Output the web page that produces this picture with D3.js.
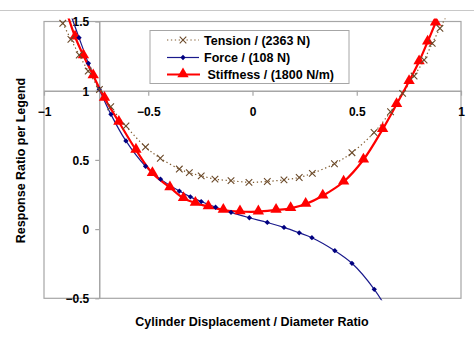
<!DOCTYPE html>
<html>
<head>
<meta charset="utf-8">
<script src="https://cdn.jsdelivr.net/npm/d3@7"></script>
<style>
  body { margin: 0; background: #fff; }
  svg text { font-family: "Liberation Sans", Arial, sans-serif; font-weight: bold; fill: #000; }
</style>
</head>
<body>
<div id="viz"></div>
<script>
// data (x = displacement / diameter, y = response ratio)
let tension = [
    [-0.910, 1.487], [-0.871, 1.371], [-0.831, 1.258], [-0.788, 1.142], [-0.734, 1.009],
    [-0.680, 0.884], [-0.607, 0.745], [-0.513, 0.593], [-0.442, 0.512], [-0.351, 0.434],
    [-0.303, 0.408], [-0.246, 0.385], [-0.180, 0.361], [-0.103, 0.350], [-0.017, 0.338],
    [0.071, 0.344], [0.151, 0.356], [0.224, 0.373], [0.287, 0.403], [0.393, 0.472],
    [0.477, 0.552], [0.583, 0.698], [0.662, 0.848], [0.720, 0.981], [0.775, 1.106],
    [0.823, 1.222], [0.862, 1.342], [0.899, 1.451], [0.935, 1.555]
];
let force = [
    [-0.878, 1.576], [-0.832, 1.383], [-0.787, 1.198], [-0.735, 1.011], [-0.679, 0.829],
    [-0.607, 0.637], [-0.513, 0.454], [-0.441, 0.361], [-0.351, 0.275], [-0.298, 0.233],
    [-0.246, 0.199], [-0.177, 0.158], [-0.103, 0.121], [-0.015, 0.082], [0.071, 0.048],
    [0.151, 0.012], [0.224, -0.027], [0.285, -0.062], [0.395, -0.156], [0.477, -0.247],
    [0.584, -0.435], [0.665, -0.630]
];
let stiffness = [
    [-0.887, 1.548], [-0.851, 1.390], [-0.811, 1.254], [-0.764, 1.110], [-0.710, 0.947],
    [-0.641, 0.774], [-0.559, 0.572], [-0.480, 0.403], [-0.396, 0.301], [-0.331, 0.223],
    [-0.274, 0.189], [-0.212, 0.163], [-0.140, 0.138], [-0.060, 0.127], [0.028, 0.126],
    [0.113, 0.138], [0.183, 0.150], [0.255, 0.181], [0.337, 0.241], [0.437, 0.342],
    [0.532, 0.501], [0.624, 0.721], [0.691, 0.902], [0.751, 1.068], [0.799, 1.211],
    [0.840, 1.354], [0.878, 1.491]
];
let seriesNames = ["Tension / (2363 N)", "Force / (108 N)", "Stiffness / (1800 N/m)"];
let xTicks = [-1, -0.5, 0, 0.5, 1];
let yTicks = [-0.5, 0, 0.5, 1, 1.5];
let yAxisCross = -0.735; // value axis crosses here
let xAxisCross = 1;

let width = 474, height = 341;
let plotLeft = 44, plotRight = 461, plotTop = 21.5, plotBottom = 298.3;

let svg = d3.select("#viz").append("svg")
    .attr("width", width)
    .attr("height", height);

// faint outer chart border line at top
svg.append("line")
    .attr("x1", 0).attr("x2", width)
    .attr("y1", 10.5).attr("y2", 10.5)
    .attr("stroke", "#c8c8c8");

let x = d3.scaleLinear().domain([-1, 1]).range([plotLeft, plotRight]);
let y = d3.scaleLinear().domain([-0.5, 1.5]).range([plotBottom, plotTop]);

// plot area border
svg.append("rect")
    .attr("x", plotLeft).attr("y", plotTop)
    .attr("width", plotRight - plotLeft).attr("height", plotBottom - plotTop)
    .attr("fill", "#fff")
    .attr("stroke", "#a6a6a6")
    .attr("stroke-width", 1.2);

// axes
let xAxis = svg.append("g")
    .attr("transform", "translate(0," + y(xAxisCross) + ")")
    .call(d3.axisBottom(x).tickValues(xTicks).tickFormat(d3.format("")).tickSize(5).tickSizeOuter(0).tickPadding(11.5));
let yAxis = svg.append("g")
    .attr("transform", "translate(" + x(yAxisCross) + ",0)")
    .call(d3.axisLeft(y).tickValues(yTicks).tickFormat(d3.format("")).tickSize(4).tickSizeOuter(0).tickPadding(6));

for (let g of [xAxis, yAxis]) {
    g.select(".domain").attr("stroke", "#a6a6a6").attr("stroke-width", 1.5);
    g.selectAll(".tick line").attr("stroke", "#a6a6a6").attr("stroke-width", 1.2);
    g.selectAll(".tick text").style("font-size", "12px").attr("fill", "#000");
}
yAxis.selectAll(".tick text").attr("dy", "0.36em");

// clip to plot area
svg.append("clipPath").attr("id", "plotclip")
    .append("rect")
    .attr("x", plotLeft).attr("y", plotTop - 3)
    .attr("width", plotRight - plotLeft).attr("height", plotBottom - plotTop + 5);

let plot = svg.append("g").attr("clip-path", "url(#plotclip)");

let line = d3.line()
    .x(d => x(d[0]))
    .y(d => y(d[1]))
    .curve(d3.curveCatmullRom.alpha(0.5));

let inside = d => d[1] <= 1.5 && d[1] >= -0.5;

// tension: brown dotted, x markers
plot.append("path")
    .attr("d", line(tension))
    .attr("fill", "none")
    .attr("stroke", "#7f5a2e")
    .attr("stroke-width", 1.2)
    .attr("stroke-dasharray", "1.3,2.6");

// force: navy, diamonds
plot.append("path")
    .attr("d", line(force))
    .attr("fill", "none")
    .attr("stroke", "#1a1a8c")
    .attr("stroke-width", 1.2);

// stiffness: red, triangles
plot.append("path")
    .attr("d", line(stiffness))
    .attr("fill", "none")
    .attr("stroke", "#ff0000")
    .attr("stroke-width", 2.2);

let timesSym = d3.symbol().type(d3.symbolTimes).size(30);
let diamondSym = d3.symbol().type(d3.symbolSquare).size(14);
let triSym = d3.symbol().type(d3.symbolTriangle).size(56);

plot.selectAll(".tri")
    .data(stiffness.filter(inside))
    .enter().append("path")
    .attr("class", "tri")
    .attr("d", triSym)
    .attr("transform", d => "translate(" + x(d[0]) + "," + (y(d[1]) - 0.5) + ")")
    .attr("fill", "#ff0000");

plot.selectAll(".dia")
    .data(force.filter(inside))
    .enter().append("path")
    .attr("class", "dia")
    .attr("d", diamondSym)
    .attr("transform", d => "translate(" + x(d[0]) + "," + y(d[1]) + ") rotate(45)")
    .attr("fill", "#000080");

plot.selectAll(".cross")
    .data(tension.filter(inside))
    .enter().append("path")
    .attr("class", "cross")
    .attr("d", timesSym)
    .attr("transform", d => "translate(" + x(d[0]) + "," + y(d[1]) + ")")
    .attr("fill", "none")
    .attr("stroke", "#6b4a2a")
    .attr("stroke-width", 1.1);

// legend
let legend = svg.append("g");
legend.append("rect")
    .attr("x", 150).attr("y", 30.5)
    .attr("width", 199).attr("height", 53)
    .attr("fill", "#fff")
    .attr("stroke", "#a6a6a6");

let legendRows = [40, 57.5, 74.5];
let lx1 = 167, lx2 = 199;

legend.append("line")
    .attr("x1", lx1).attr("x2", lx2).attr("y1", legendRows[0]).attr("y2", legendRows[0])
    .attr("stroke", "#7f5a2e").attr("stroke-width", 1.2).attr("stroke-dasharray", "1.3,2.6");
legend.append("path").attr("d", timesSym)
    .attr("transform", "translate(" + (lx1 + lx2) / 2 + "," + legendRows[0] + ")")
    .attr("fill", "none").attr("stroke", "#6b4a2a").attr("stroke-width", 1.1);

legend.append("line")
    .attr("x1", lx1).attr("x2", lx2).attr("y1", legendRows[1]).attr("y2", legendRows[1])
    .attr("stroke", "#1a1a8c").attr("stroke-width", 1.2);
legend.append("path").attr("d", diamondSym)
    .attr("transform", "translate(" + (lx1 + lx2) / 2 + "," + legendRows[1] + ") rotate(45)")
    .attr("fill", "#000080");

legend.append("line")
    .attr("x1", lx1).attr("x2", lx2 + 1).attr("y1", legendRows[2]).attr("y2", legendRows[2])
    .attr("stroke", "#ff0000").attr("stroke-width", 2.2);
legend.append("path").attr("d", triSym)
    .attr("transform", "translate(" + (lx1 + lx2) / 2 + "," + (legendRows[2] - 0.5) + ")")
    .attr("fill", "#ff0000");

legend.selectAll(".ltext")
    .data(seriesNames)
    .enter().append("text")
    .attr("class", "ltext")
    .attr("x", (d, i) => i === 2 ? 207.5 : 204)
    .attr("y", (d, i) => legendRows[i])
    .attr("dy", "0.36em")
    .style("font-size", "12.5px")
    .text(d => d);

// axis titles
svg.append("text")
    .attr("x", 252)
    .attr("y", 326)
    .attr("text-anchor", "middle")
    .style("font-size", "12.5px")
    .text("Cylinder Displacement / Diameter Ratio");

svg.append("text")
    .attr("transform", "translate(24.5,160.5) rotate(-90)")
    .attr("text-anchor", "middle")
    .style("font-size", "12.5px")
    .text("Response Ratio per Legend");
</script>
</body>
</html>
